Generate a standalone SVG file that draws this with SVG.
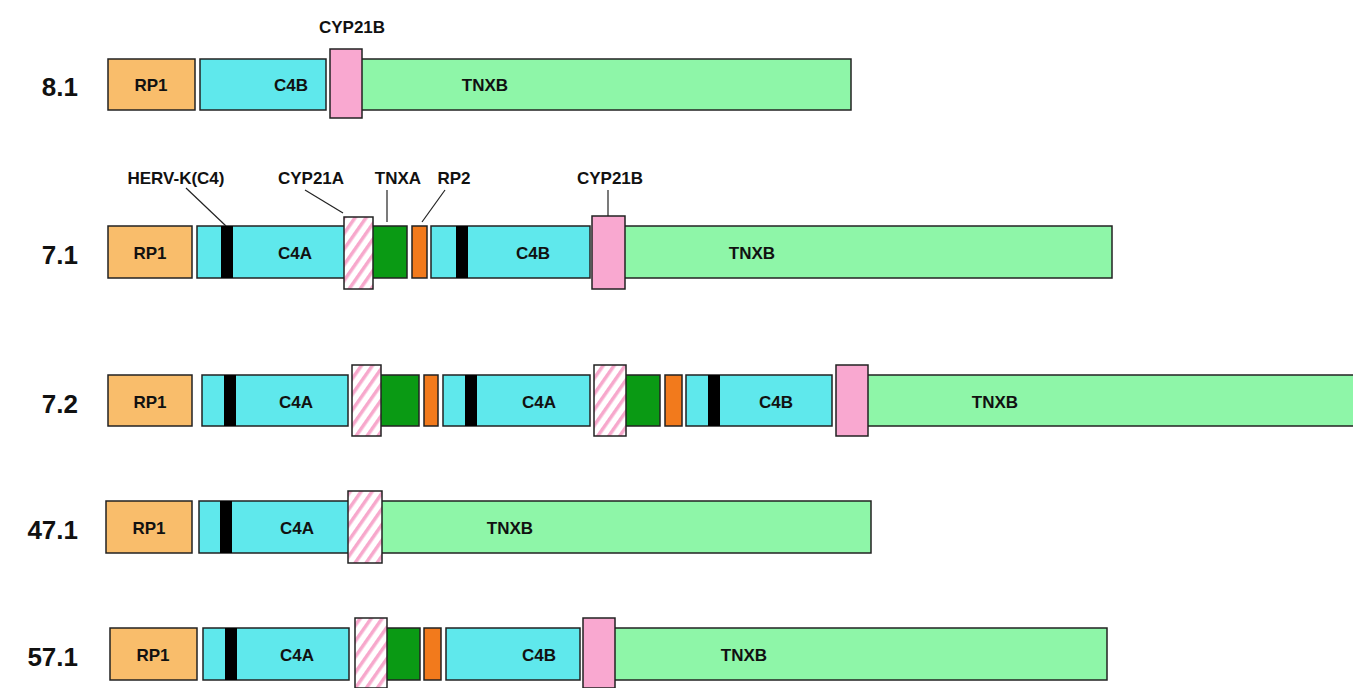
<svg xmlns="http://www.w3.org/2000/svg" width="1353" height="688" viewBox="0 0 1353 688">
<defs>
<pattern id="hatch" patternUnits="userSpaceOnUse" width="9" height="9" patternTransform="rotate(35)">
<rect width="9" height="9" fill="#fff" style="stroke:none"/><rect width="3.5" height="9" fill="#f7a8cc" style="stroke:none"/>
</pattern>
<style>
rect{stroke:#222;stroke-width:1.5}
.rp1{fill:#f9bd6b}.c4{fill:#5fe8ec}.cypb{fill:#f9a8d0}.cypa{fill:url(#hatch)}.tnxb{fill:#8ef6a8}.tnxa{fill:#0a9a14}.rp2{fill:#f27a1c}
.bar{fill:#000;stroke:none}
text{font-family:"Liberation Sans",Arial,sans-serif;font-weight:bold;fill:#111}
.lab{font-size:17px;text-anchor:middle}
.row{font-size:26px;text-anchor:end}
.top{font-size:17px;text-anchor:middle}
line{stroke:#222;stroke-width:1.2}
</style>
</defs>
<rect width="1353" height="688" fill="#fff" style="stroke:none"/>
<g id="labels">
<text class="row" x="78" y="96">8.1</text>
<text class="row" x="78" y="264">7.1</text>
<text class="row" x="78" y="413">7.2</text>
<text class="row" x="78" y="539">47.1</text>
<text class="row" x="78" y="666">57.1</text>
<text class="top" x="352" y="33">CYP21B</text>
<text class="top" x="176" y="184">HERV-K(C4)</text>
<text class="top" x="311" y="184">CYP21A</text>
<text class="top" x="398" y="184">TNXA</text>
<text class="top" x="454" y="184">RP2</text>
<text class="top" x="610" y="184">CYP21B</text>
</g>
<g id="connectors">
<line x1="186" y1="188" x2="226" y2="226"/>
<line x1="305" y1="190" x2="343" y2="213"/>
<line x1="387" y1="190" x2="387" y2="222"/>
<line x1="445" y1="190" x2="422" y2="222"/>
<line x1="608" y1="190" x2="608" y2="216"/>
</g>
<g id="row81">
<rect class="rp1" x="108" y="59" width="87" height="51"/><text class="lab" x="151" y="91">RP1</text>
<rect class="c4" x="200" y="59" width="126" height="51"/><text class="lab" x="291" y="91">C4B</text>
<rect class="tnxb" x="358" y="59" width="493" height="51"/><text class="lab" x="485" y="91">TNXB</text>
<rect class="cypb" x="330" y="49" width="32" height="69"/>
</g>
<g id="row71">
<rect class="rp1" x="108" y="226" width="84" height="52"/><text class="lab" x="150" y="259">RP1</text>
<rect class="c4" x="197" y="226" width="150" height="52"/><rect class="bar" x="221" y="226" width="12" height="52"/><text class="lab" x="295" y="259">C4A</text>
<rect class="tnxa" x="370" y="226" width="37" height="52"/>
<rect class="cypa" x="344" y="217" width="29" height="72"/>
<rect class="rp2" x="412" y="226" width="15" height="52"/>
<rect class="c4" x="431" y="226" width="159" height="52"/><rect class="bar" x="456" y="226" width="12" height="52"/><text class="lab" x="533" y="259">C4B</text>
<rect class="tnxb" x="620" y="226" width="492" height="52"/><text class="lab" x="752" y="259">TNXB</text>
<rect class="cypb" x="592" y="216" width="33" height="73"/>
</g>
<g id="row72">
<rect class="rp1" x="108" y="375" width="84" height="51"/><text class="lab" x="150" y="408">RP1</text>
<rect class="c4" x="202" y="375" width="146" height="51"/><rect class="bar" x="224" y="375" width="12" height="51"/><text class="lab" x="296" y="408">C4A</text>
<rect class="tnxa" x="379" y="375" width="40" height="51"/>
<rect class="cypa" x="352" y="365" width="29" height="71"/>
<rect class="rp2" x="424" y="375" width="14" height="51"/>
<rect class="c4" x="443" y="375" width="147" height="51"/><rect class="bar" x="465" y="375" width="12" height="51"/><text class="lab" x="539" y="408">C4A</text>
<rect class="tnxa" x="622" y="375" width="38" height="51"/>
<rect class="cypa" x="594" y="365" width="32" height="71"/>
<rect class="rp2" x="665" y="375" width="17" height="51"/>
<rect class="c4" x="686" y="375" width="146" height="51"/><rect class="bar" x="708" y="375" width="12" height="51"/><text class="lab" x="776" y="408">C4B</text>
<rect class="tnxb" x="862" y="375" width="495" height="51"/><text class="lab" x="995" y="408">TNXB</text>
<rect class="cypb" x="836" y="365" width="32" height="71"/>
</g>
<g id="row471">
<rect class="rp1" x="106" y="501" width="86" height="52"/><text class="lab" x="149" y="534">RP1</text>
<rect class="c4" x="199" y="501" width="150" height="52"/><rect class="bar" x="220" y="501" width="12" height="52"/><text class="lab" x="297" y="534">C4A</text>
<rect class="tnxb" x="378" y="501" width="493" height="52"/><text class="lab" x="510" y="534">TNXB</text>
<rect class="cypa" x="348" y="491" width="34" height="72"/>
</g>
<g id="row571">
<rect class="rp1" x="110" y="628" width="87" height="52"/><text class="lab" x="153" y="661">RP1</text>
<rect class="c4" x="203" y="628" width="146" height="52"/><rect class="bar" x="225" y="628" width="12" height="52"/><text class="lab" x="297" y="661">C4A</text>
<rect class="tnxa" x="383" y="628" width="37" height="52"/>
<rect class="cypa" x="355" y="618" width="32" height="70"/>
<rect class="rp2" x="424" y="628" width="17" height="52"/>
<rect class="c4" x="446" y="628" width="134" height="52"/><text class="lab" x="539" y="661">C4B</text>
<rect class="tnxb" x="610" y="628" width="497" height="52"/><text class="lab" x="744" y="661">TNXB</text>
<rect class="cypb" x="583" y="618" width="32" height="70"/>
</g>
</svg>
